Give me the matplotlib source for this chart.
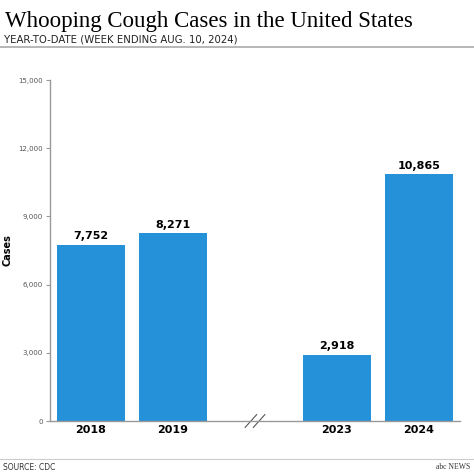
import matplotlib
matplotlib.use("Agg")
import matplotlib.pyplot as plt

years = ["2018", "2019", "2023", "2024"]
cases = [7752, 8271, 2918, 10865]
positions = [0, 1, 3, 4]
yticks = [0, 3000, 6000, 9000, 12000, 15000]

fig = plt.figure(figsize=(4.74, 4.74), dpi=100)
W = H = 474.0
ax = fig.add_axes([50/W, 1-421/H, 410/W, 341/H])
ax.bar(positions, cases, width=0.83, color="#2591d8")
ax.set_xlim(-0.5, 4.5)
ax.set_ylim(0, 15000)
ax.set_yticks(yticks)
ax.set_yticklabels([f"{v:,}" for v in yticks], fontsize=5, color="#555555")
ax.set_xticks(positions)
ax.set_xticklabels(years, fontsize=8, fontweight="bold")
ax.tick_params(axis="x", length=0, pad=3)
ax.tick_params(axis="y", length=3, width=0.8, color="#999999", pad=2)
for s in ["top", "right"]:
    ax.spines[s].set_visible(False)
for s in ["left", "bottom"]:
    ax.spines[s].set_color("#999999")
    ax.spines[s].set_linewidth(1)
for x, v in zip(positions, cases):
    ax.text(x, v + 150, f"{v:,}", ha="center", va="bottom", fontsize=8, fontweight="bold")
ax.set_ylabel("Cases", fontsize=7, fontweight="bold", labelpad=4)
# axis break
for dx in [-0.05, 0.05]:
    ax.plot([2 + dx - 0.07, 2 + dx + 0.07], [-280, 280], color="#555555", lw=0.8, clip_on=False)

fig.text(5/W, 1-21/H, "Whooping Cough Cases in the United States", family="Liberation Serif",
         fontsize=16.5, va="center", ha="left")
fig.text(4/W, 1-40/H, "YEAR-TO-DATE (WEEK ENDING AUG. 10, 2024)", fontsize=7.3, va="center",
         ha="left", color="#222222")
fig.add_artist(plt.Line2D([0, 1], [1-47/H, 1-47/H], color="#aaaaaa", lw=1.2, transform=fig.transFigure))
fig.add_artist(plt.Line2D([0, 1], [1-459/H, 1-459/H], color="#cccccc", lw=0.8, transform=fig.transFigure))
fig.text(3/W, 1-467/H, "SOURCE: CDC", fontsize=5.5, va="center", ha="left", color="#333333")
fig.text(470/W, 1-467/H, "abc NEWS", fontsize=5.5, va="center", ha="right", color="#333333",
         family="Liberation Serif")
fig.savefig("out.png", dpi=100, facecolor="white")
